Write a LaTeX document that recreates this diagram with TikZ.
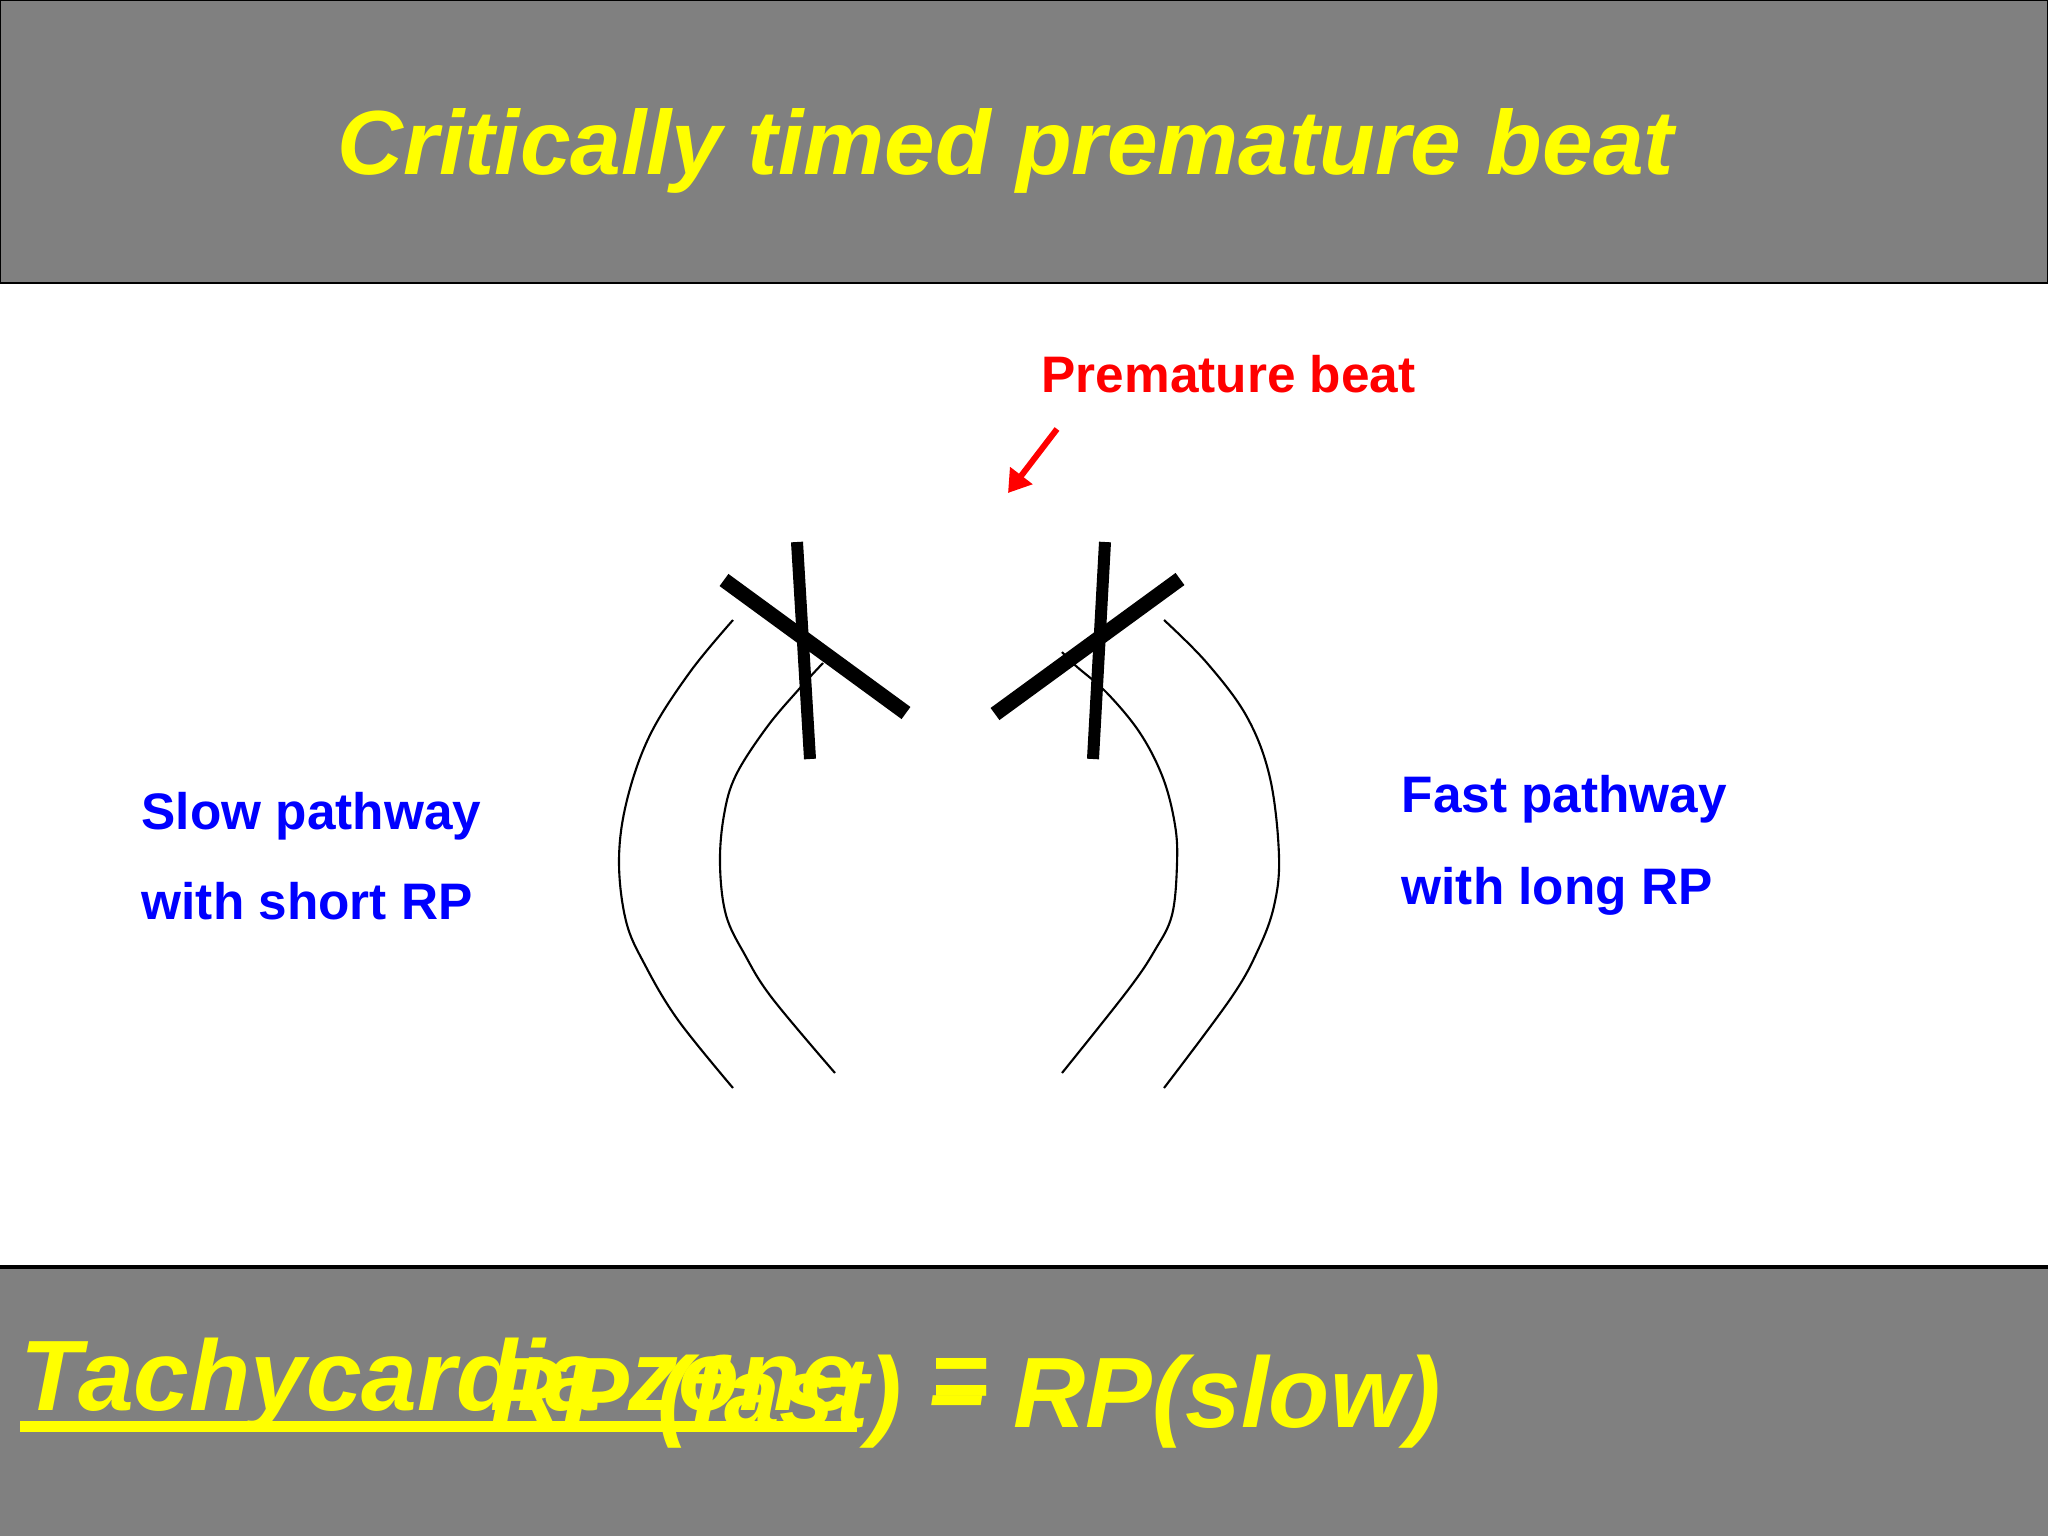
\documentclass[tikz,border=0pt]{standalone}
\usepackage{fontspec}
\setmainfont{Liberation Sans}
\usetikzlibrary{arrows.meta}

\definecolor{slidegray}{RGB}{128,128,128}
\definecolor{slideyellow}{RGB}{255,255,0}
\definecolor{pathblue}{RGB}{0,0,255}
\definecolor{beatred}{RGB}{255,0,0}

\begin{document}
\begin{tikzpicture}[x=0.01cm, y=-0.01cm,
  band/.style = {fill=slidegray, draw=black, line width=0.8pt},
  pathlabel/.style = {anchor=base west, inner sep=0pt, text=pathblue,
    font=\bfseries\fontsize{14.6}{17}\selectfont},
  heading/.style = {anchor=base west, inner sep=0pt, text=slideyellow,
    font=\bfseries\itshape\fontsize{28.45}{34}\selectfont},
  pathway/.style = {line width=0.6pt, smooth, tension=0.6},
  cutbar/.style = {line width=0.15cm},
  cutstem/.style = {line width=0.12cm}]
  \useasboundingbox (0,0) rectangle (2048,1536);

  % title and bottom bands
  \path[band] (0,0) rectangle (2048,283);
  \fill[slidegray] (0,1267) rectangle (2048,1536);
  \draw[line width=1pt] (0,1267) -- (2048,1267);

  \node (title) [anchor=base, inner sep=0pt, text=slideyellow,
    font=\bfseries\itshape\fontsize{25.9}{31}\selectfont] at (1006,174)
    {Critically timed premature beat};

  \node (premature) [anchor=base west, inner sep=0pt, text=beatred,
    font=\bfseries\fontsize{14.6}{17}\selectfont] at (1041,392) {Premature beat};
  \coordinate (beattail) at (1057,429);
  \coordinate (beattip) at (1008,493);
  \draw[beatred, line width=0.06cm, -{Triangle[length=0.22cm, width=0.27cm]}]
    (beattail) -- (beattip);

  \node (slow1) [pathlabel] at (141,829) {Slow pathway};
  \node (slow2) [pathlabel] at (141,919) {with short RP};
  \node (fast1) [pathlabel] at (1401,812) {Fast pathway};
  \node (fast2) [pathlabel] at (1401,904) {with long RP};

  % the two pathways
  \draw[pathway] plot coordinates {(733,620) (690,672) (650,735) (627,800)
    (619,860) (626,921) (645,965) (678,1020) (733,1088)};
  \draw[pathway] plot coordinates {(823,663) (800,688) (767,727) (736,775)
    (724,815) (720,864) (726,915) (745,955) (772,998) (835,1073)};
  \draw[pathway] plot coordinates {(1062,652) (1076,666) (1107,693) (1140,733)
    (1163,778) (1175,825) (1177,864) (1172,915) (1155,950) (1128,990) (1062,1073)};
  \draw[pathway] plot coordinates {(1164,620) (1207,663) (1247,717) (1270,778)
    (1279,856) (1274,906) (1258,950) (1231,998) (1164,1088)};

  % blocks
  \draw[cutbar] (724,580) -- (906,713);
  \draw[cutstem] (797,542) -- (810,759);
  \draw[cutbar] (1180,579) -- (995,714);
  \draw[cutstem] (1105,542) -- (1093,759);

  \node (tachy) [heading] at (20,1410) {Tachycardia zone};
  \fill[slideyellow] ([yshift=-0.11cm]tachy.base west)
    rectangle ([yshift=-0.22cm]tachy.base east);
  \node (equals) [heading, xshift=0.72cm] at (tachy.base east) {=};
  \node (rpdiff) [heading] at (490,1427) {RP (fast) – RP(slow)};
\end{tikzpicture}
\end{document}
